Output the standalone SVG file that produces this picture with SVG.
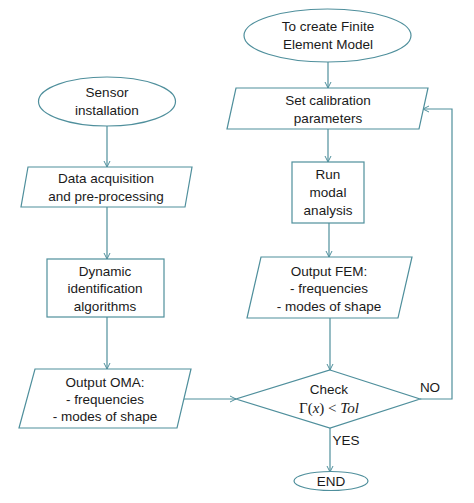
<svg xmlns="http://www.w3.org/2000/svg" width="474" height="503" viewBox="0 0 474 503">
<defs>
<marker id="arr" viewBox="0 0 8 8" refX="7" refY="4" markerWidth="8" markerHeight="8" markerUnits="userSpaceOnUse" orient="auto">
<path d="M1,1 L7,4 L1,7" fill="none" stroke="#4f8f9c" stroke-width="1"/>
</marker>
</defs>
<style>
.s{fill:#ffffff;stroke:#4f8f9c;stroke-width:1.2}
.c{fill:none;stroke:#4f8f9c;stroke-width:1.2}
.t{font-family:"Liberation Sans",Arial,sans-serif;font-size:13.5px;fill:#1a1a1a;text-anchor:middle}
.m{font-family:"Liberation Serif","Times New Roman",serif;font-size:15px;fill:#1a1a1a;text-anchor:middle}
</style>
<rect width="474" height="503" fill="#ffffff"/>
<g id="connectors">
<line class="c" x1="107" y1="126" x2="107" y2="167" marker-end="url(#arr)"/>
<line class="c" x1="107" y1="207" x2="107" y2="259" marker-end="url(#arr)"/>
<line class="c" x1="107" y1="317" x2="107" y2="369" marker-end="url(#arr)"/>
<line class="c" x1="184" y1="399" x2="236" y2="399" marker-end="url(#arr)"/>
<line class="c" x1="328" y1="62" x2="328" y2="88" marker-end="url(#arr)"/>
<line class="c" x1="328" y1="129" x2="328" y2="162" marker-end="url(#arr)"/>
<line class="c" x1="329" y1="223" x2="329" y2="257" marker-end="url(#arr)"/>
<line class="c" x1="330" y1="318" x2="330" y2="370" marker-end="url(#arr)"/>
<polyline class="c" points="420,399 452,399 452,109 423,109" marker-end="url(#arr)"/>
<line class="c" x1="330" y1="428" x2="330" y2="472" marker-end="url(#arr)"/>
<text class="t" x="430" y="392">NO</text>
<text class="t" x="346" y="445">YES</text>
</g>
<g id="sensor">
<ellipse class="s" cx="107" cy="101.5" rx="68.5" ry="24.5"/>
<text class="t" x="107" y="97">Sensor</text>
<text class="t" x="107" y="115">installation</text>
</g>
<g id="data-acquisition">
<polygon class="s" points="28,167 192,167 185,207 21,207"/>
<text class="t" x="106" y="183">Data acquisition</text>
<text class="t" x="106" y="201">and pre-processing</text>
</g>
<g id="dynamic-identification">
<rect class="s" x="47" y="259" width="117" height="58"/>
<text class="t" x="105" y="276">Dynamic</text>
<text class="t" x="105" y="293">identification</text>
<text class="t" x="105" y="311">algorithms</text>
</g>
<g id="output-oma">
<polygon class="s" points="35,369 191,369 177,428 19,428"/>
<text class="t" x="105" y="387">Output OMA:</text>
<text class="t" x="105" y="404">- frequencies</text>
<text class="t" x="105" y="421">- modes of shape</text>
</g>
<g id="create-fem">
<ellipse class="s" cx="327.5" cy="35.5" rx="83.5" ry="26.5"/>
<text class="t" x="328" y="31">To create Finite</text>
<text class="t" x="328" y="49">Element Model</text>
</g>
<g id="set-calibration">
<polygon class="s" points="236,88 428,88 419,129 227,129"/>
<text class="t" x="328" y="105">Set calibration</text>
<text class="t" x="328" y="123">parameters</text>
</g>
<g id="run-modal">
<rect class="s" x="292" y="162" width="72" height="61"/>
<text class="t" x="328" y="179">Run</text>
<text class="t" x="328" y="197">modal</text>
<text class="t" x="328" y="215">analysis</text>
</g>
<g id="output-fem">
<polygon class="s" points="261,257 412,257 398,318 247,318"/>
<text class="t" x="329" y="276">Output FEM:</text>
<text class="t" x="329" y="293">- frequencies</text>
<text class="t" x="329" y="311">- modes of shape</text>
</g>
<g id="check">
<polygon class="s" points="330,370 420,399 330,428 236,399"/>
<text class="t" x="329" y="394">Check</text>
<text class="m" x="329" y="413">Γ(<tspan font-style="italic">x</tspan>) &lt; <tspan font-style="italic">Tol</tspan></text>
</g>
<g id="end">
<ellipse class="s" cx="331" cy="481" rx="37" ry="9.5"/>
<text class="t" x="331" y="486">END</text>
</g>
</svg>
